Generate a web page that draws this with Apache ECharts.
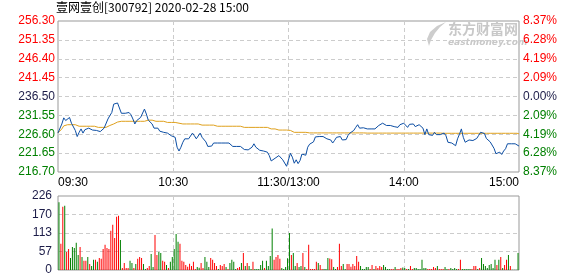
<!DOCTYPE html>
<html><head><meta charset="utf-8">
<script src="https://cdn.jsdelivr.net/npm/echarts@6/dist/echarts.min.js"></script>
<style>html,body{margin:0;padding:0;background:#fff}#c{width:578px;height:276px}</style>
</head><body><div id="c"></div>
<script>
const chartTitle = '壹网壹创[300792] 2020-02-28 15:00';
const prevClose = 236.50;
const priceMin = 216.70, priceMax = 256.30, priceStep = 4.95;
const volMax = 226, volStep = 56.5;
const timeLabels = ['09:30','10:30','11:30/13:00','14:00','15:00'];

const price = [
226.95,226.80,229.30,230.90,230.20,230.50,231.00,229.50,229.30,227.60,
226.00,227.10,228.00,226.90,227.80,228.20,228.20,228.10,227.70,227.30,
227.60,227.30,227.30,227.60,228.20,228.40,230.60,231.50,232.30,234.50,
234.70,234.80,235.20,232.10,232.10,232.10,232.20,232.30,231.70,230.60,
229.30,230.20,230.30,231.00,231.50,233.20,231.90,230.30,230.20,229.30,
228.20,228.30,228.20,227.40,227.90,227.10,226.90,226.90,226.50,226.20,
226.00,225.80,223.20,222.20,223.20,224.50,225.40,225.40,225.40,225.90,
226.90,226.20,225.40,225.80,226.90,225.80,226.00,224.60,223.40,223.40,
223.50,224.30,224.30,224.30,224.30,224.30,224.30,224.30,224.30,224.30,
224.30,223.40,223.40,223.40,223.40,223.40,223.40,222.60,222.50,222.50,
222.50,223.20,224.10,223.20,223.60,222.40,222.20,222.20,222.20,221.90,
221.00,219.60,219.90,220.30,220.60,221.00,220.80,219.90,219.40,218.20,
218.40,221.60,220.60,219.00,219.90,218.90,219.70,221.40,221.10,221.10,
223.20,224.00,224.50,224.60,225.90,226.00,226.00,226.00,226.00,225.90,
225.40,225.10,225.10,224.30,225.00,225.80,226.00,226.00,225.10,225.10,
225.20,226.30,226.90,227.40,227.60,228.40,229.10,228.20,228.10,228.30,
228.40,228.00,228.00,228.00,228.00,228.00,228.00,228.90,229.30,229.50,
229.00,228.90,228.90,228.90,228.40,228.60,228.90,228.40,229.10,229.40,
229.50,229.30,228.40,229.20,229.60,229.30,228.60,229.10,229.10,229.10,
228.20,226.50,228.00,226.50,226.60,226.30,227.10,226.50,226.50,226.50,
226.50,226.90,226.20,224.50,224.50,224.30,223.90,223.60,225.40,226.60,
228.00,225.80,224.50,224.50,225.10,224.80,224.95,224.95,225.50,226.30,
227.10,226.90,226.80,225.50,225.40,224.60,224.20,222.90,221.50,221.30,
221.90,221.30,222.20,222.80,224.10,224.10,224.10,224.10,224.10,223.80,
223.50
];

const avgPrice = [
226.95,227.20,228.00,228.80,229.10,229.10,229.10,229.10,229.10,229.10,
228.70,228.70,228.70,228.70,228.70,228.70,228.70,228.70,228.70,228.70,
228.40,228.40,228.40,228.40,228.40,228.40,228.70,228.90,229.10,229.30,
229.60,229.80,230.00,230.00,230.00,230.00,230.00,230.00,230.00,230.00,
230.00,230.00,230.00,230.00,230.00,230.00,230.30,230.30,230.30,230.30,
230.00,230.00,230.00,230.00,230.00,230.00,229.70,229.70,229.70,229.70,
229.70,229.70,229.50,229.50,229.30,229.30,229.30,229.30,229.30,229.30,
229.30,229.30,229.30,229.30,229.30,229.00,229.00,229.00,229.00,229.00,
229.00,229.00,228.70,228.70,228.70,228.70,228.70,228.70,228.70,228.70,
228.70,228.70,228.70,228.70,228.70,228.70,228.70,228.40,228.40,228.40,
228.40,228.40,228.40,228.40,228.40,228.40,228.40,228.40,228.40,228.40,
228.40,228.00,228.00,228.00,228.00,227.70,227.70,227.70,227.70,227.70,
227.60,227.60,227.10,227.10,227.10,227.10,227.10,227.10,227.10,227.10,
227.10,226.95,226.95,226.95,226.95,226.95,226.95,226.95,226.95,226.95,
226.95,226.95,226.95,226.95,226.95,226.95,226.95,226.95,226.95,226.95,
226.95,226.95,226.95,226.95,226.95,226.95,226.95,226.95,226.95,226.95,
226.95,226.90,226.90,226.90,226.90,226.90,226.90,226.90,226.90,226.90,
226.90,226.90,226.90,226.90,226.90,226.90,226.90,226.90,226.90,226.90,
226.90,226.90,226.90,226.90,226.90,226.90,226.90,226.90,226.90,226.90,
226.90,226.90,226.90,226.90,226.90,226.90,226.90,226.90,226.90,226.90,
226.90,226.85,226.85,226.85,226.85,226.85,226.85,226.85,226.85,226.85,
226.85,226.85,226.85,226.85,226.85,226.85,226.85,226.85,226.85,226.85,
226.85,226.85,226.85,226.85,226.85,226.85,226.85,226.85,226.85,226.85,
226.85,226.85,226.85,226.85,226.85,226.85,226.85,226.85,226.85,226.85,
226.70
];

const volume = [
207,80,193,196,55,64,37,70,67,83,
46,70,40,28,28,40,18,12,31,31,
25,37,34,64,77,67,64,120,138,98,
163,166,92,6,21,6,6,28,21,6,
18,34,40,37,18,3,6,12,49,9,
107,46,55,52,28,25,15,6,25,40,
64,110,86,80,28,25,
15,10,19,12,25,3,9,7,21,6,
40,25,9,37,31,21,12,3,15,12,
18,9,3,21,31,25,3,6,9,21,
52,12,21,12,3,25,3,3,3,15,
28,6,28,12,43,127,31,40,46,34,
6,3,9,
36,113,
46,52,12,21,9,12,52,9,3,77,
3,3,3,25,21,15,3,3,3,37,
35,33,9,3,9,80,12,18,3,18,
18,10,18,12,43,25,12,3,3,9,
9,3,15,3,12,6,12,9,15,9,
3,3,3,3,9,3,3,6,8,6,3,
3,12,3,6,6,3,3,31,6,6,
3,3,3,9,6,12,3,3,3,9,3,
3,6,3,6,3,3,31,3,3,3,3,
3,3,12,12,3,6,37,18,12,6,
15,18,6,31,15,31,40,6,15,31,
46,12,1,1,1,52
];

const volUp = [
0,1,1,0,1,1,0,0,0,0,
0,1,0,1,1,0,1,0,0,1,
0,1,1,1,1,1,1,1,1,1,
1,1,0,1,1,1,1,0,0,1,
0,1,1,1,0,0,1,1,0,0,
1,1,0,0,1,1,0,1,0,0,
0,0,0,1,1,1,
1,1,1,1,1,1,0,0,1,1,
0,0,0,1,1,1,1,0,1,1,
1,0,1,0,0,0,0,1,1,0,
1,0,1,0,0,1,0,0,0,0,
0,1,0,0,0,0,1,1,1,1,
0,0,0,
0,0,
1,0,0,1,0,0,1,0,1,1,
1,1,1,1,0,1,1,0,0,0,
1,1,0,0,1,1,1,0,0,1,
1,1,1,1,1,1,0,0,0,0,
0,1,1,0,1,1,1,1,0,0,
0,0,1,1,0,1,1,1,0,0,1,
0,1,1,0,0,0,0,0,0,0,
1,1,1,1,1,0,1,1,1,0,0,
1,0,0,0,0,1,1,0,0,0,0,
0,1,1,1,0,1,0,0,0,0,
0,0,0,0,1,0,1,0,1,1,
0,1,0,0,0,0
];

const UP = '#ff0000', DOWN = '#008000', FLAT = '#1c1c48';
const LABEL_FONT = 'Liberation Sans';
const priceColor = v => { v = parseFloat(v); return v > prevClose + 1e-6 ? UP : (v < prevClose - 1e-6 ? DOWN : FLAT); };
const gridSplit = {show:true, showMinLine:false, showMaxLine:false, lineStyle:{color:'#cccccc', type:[4,3], width:1}};

const chart = echarts.init(document.getElementById('c'), null, {renderer:'canvas'});
chart.setOption({
  animation:false,
  backgroundColor:'#ffffff',
  title:{text:chartTitle, left:56, top:1, padding:0,
    textStyle:{fontSize:12, fontWeight:'normal', color:'#000', fontFamily:'Noto Sans CJK SC'}},
  graphic:[
    {type:'polygon', shape:{points:[[446,22],[437,26],[430,32],[427,39],[429,46],[431,40],[435,33],[440,27]]}, style:{fill:'#cdcdcd'}, z:0},
    {type:'text', left:448, top:22, style:{text:'东方财富网', fill:'#c8c8c8', font:'bold 14px "Noto Sans CJK SC"'}, z:0},
    {type:'text', left:448, top:38, style:{text:'eastmoney.com', fill:'#c8c8c8', font:'italic bold 9px "DejaVu Sans"'}, z:0}
  ],
  grid:[
    {left:58, top:21, width:461, height:151, show:true, borderColor:'#999', borderWidth:1},
    {left:58, top:196, width:461, height:74, show:true, borderColor:'#999', borderWidth:1}
  ],
  xAxis:[
    {gridIndex:0, type:'value', min:0, max:240, interval:60,
     axisLine:{show:false}, axisTick:{show:false},
     axisLabel:{formatter:v=>timeLabels[Math.round(v/60)], fontSize:12, color:'#000', margin:5,
       fontFamily:LABEL_FONT, alignMinLabel:'left', alignMaxLabel:'right', showMinLabel:true, showMaxLabel:true},
     splitLine:gridSplit},
    {gridIndex:1, type:'value', min:0, max:240, interval:60,
     axisLine:{show:false}, axisTick:{show:false}, axisLabel:{show:false}, splitLine:gridSplit}
  ],
  yAxis:[
    {gridIndex:0, type:'value', position:'left', min:priceMin, max:priceMax, interval:priceStep,
     axisLine:{show:false}, axisTick:{show:false},
     axisLabel:{formatter:v=>Number(v).toFixed(2), color:priceColor, fontSize:12, fontFamily:LABEL_FONT, margin:3},
     splitLine:gridSplit},
    {gridIndex:0, type:'value', position:'right', min:priceMin, max:priceMax, interval:priceStep,
     axisLine:{show:false}, axisTick:{show:false},
     axisLabel:{formatter:v=>Math.abs((v-prevClose)/prevClose*100).toFixed(2)+'%', color:priceColor,
       fontSize:12, fontFamily:LABEL_FONT, margin:4},
     splitLine:{show:false}},
    {gridIndex:1, type:'value', position:'left', min:0, max:volMax, interval:volStep,
     axisLine:{show:false}, axisTick:{show:false},
     axisLabel:{formatter:v=>String(Math.round(v)), color:FLAT, fontSize:12, fontFamily:LABEL_FONT, margin:6},
     splitLine:gridSplit}
  ],
  series:[
    {type:'line', xAxisIndex:0, yAxisIndex:0, data:avgPrice.map((v,i)=>[i,v]), showSymbol:false,
     lineStyle:{color:'#dfa01c', width:1}, itemStyle:{color:'#dfa01c'}, silent:true, z:2},
    {type:'line', xAxisIndex:0, yAxisIndex:0, data:price.map((v,i)=>[i,v]), showSymbol:false,
     lineStyle:{color:'#0c4ea4', width:1}, itemStyle:{color:'#0c4ea4'}, silent:true, z:3},
    {type:'bar', xAxisIndex:1, yAxisIndex:2, barWidth:1, silent:true,
     data:volume.map((v,i)=>({value:[(i+0.5)*240/volume.length, v], itemStyle:{color: volUp[i] ? UP : DOWN}}))}
  ]
});
</script>
</body></html>
